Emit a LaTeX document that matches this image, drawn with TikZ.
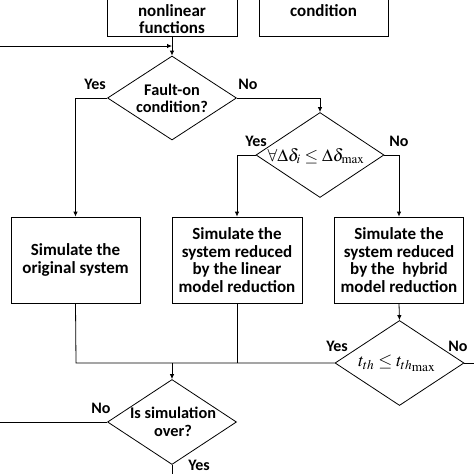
\documentclass[tikz,border=0pt]{standalone}
\usepackage{mathptmx}
\usepackage{fontspec}
\setmainfont{Carlito}
\usetikzlibrary{shapes.geometric,arrows.meta}
\begin{document}
\begin{tikzpicture}[x=1pt,y=-1pt,
  line width=0.8pt,
  box/.style={draw,rectangle,inner sep=0pt},
  dia/.style={draw,diamond,inner sep=0pt,minimum width=129pt,minimum height=85pt},
  txt/.style={align=center,inner sep=0pt,font=\bfseries\fontsize{17}{17.8}\selectfont},
  dtxt/.style={align=center,inner sep=0pt,font=\bfseries\fontsize{16.3}{17.5}\selectfont},
  lab/.style={inner sep=0pt,font=\bfseries\fontsize{16}{18}\selectfont},
  mth/.style={inner sep=0pt,font=\fontsize{17.5}{18}\selectfont},
  arr/.style={-{Latex[length=5pt,width=4.5pt]}}]
\useasboundingbox (0,0) rectangle (474,474);
% top boxes (cropped)
\node[box,minimum width=130pt,minimum height=72pt] (f) at (172,0) {};
\node[txt] (ft) at (172,19) {nonlinear\\functions};
\node[box,minimum width=129pt,minimum height=72pt] (c) at (323.5,0) {};
\node[txt] (ct) at (323.5,11) {condition};
% decisions
\node[dia,minimum height=84pt] (d1) at (172,98) {};
\node[dtxt] (d1t) at (172,98.5) {Fault-on\\condition?};
\node[dia,minimum width=128pt] (d2) at (320,155) {};
\node[mth] (d2t) at (316,156) {$\forall\Delta\delta_i\le\Delta\delta_{\max}$};
\node[dia] (d3) at (399.5,363) {};
\node[mth,font=\fontsize{18}{18}\selectfont] (d3t) at (397,363) {$t_{th}\le t_{th_{\scriptstyle\max}}$};
\node[dia] (d4) at (172,422) {};
\node[dtxt] (d4t) at (173,422) {Is simulation\\over?};
% process boxes
\node[box,txt,minimum width=129pt,minimum height=86pt] (A) at (75.5,260) {Simulate the\\original system};
\node[box,txt,minimum width=130pt,minimum height=86pt] (B) at (237,260) {Simulate the\\system reduced\\by the linear\\model reduction};
\node[box,txt,minimum width=129pt,minimum height=86pt] (C) at (399,260) {Simulate the\\system reduced\\by the\ \ hybrid\\model reduction};
% coordinates
\coordinate (in) at (0,46);
\coordinate (inj) at (172,46);
\coordinate (j1) at (76,363);
\coordinate (j2) at (237,363);
\coordinate (j3) at (172,363);
\coordinate (outR) at (474,363);
\coordinate (outL) at (0,422);
\coordinate (outB) at (172,474);
% connectors
\draw[arr] (f.south) -- (d1.north);
\draw[arr] (in) -- (inj);
\draw[arr] (d1.west) -| (A.north);
\draw[arr] (d1.east) -| (d2.north);
\draw[arr] (d2.west) -| (B.north);
\draw[arr] (d2.east) -| (C.north);
\draw[arr] (C.south) -- (d3.north);
\draw (A.south) -- (j1) -- (d3.west);
\draw (B.south) -- (j2);
\draw[arr] (j3) -- (d4.north);
\draw (d3.east) -- (outR);
\draw (d4.west) -- (outL);
\draw (d4.south) -- (outB);
% labels
\node[lab] at (95,84) {Yes};
\node[lab] at (248,84) {No};
\node[lab] at (256,141) {Yes};
\node[lab] at (399,141) {No};
\node[lab] at (337,346) {Yes};
\node[lab] at (458,346) {No};
\node[lab] at (101,408) {No};
\node[lab] at (199,465) {Yes};
\end{tikzpicture}
\end{document}
